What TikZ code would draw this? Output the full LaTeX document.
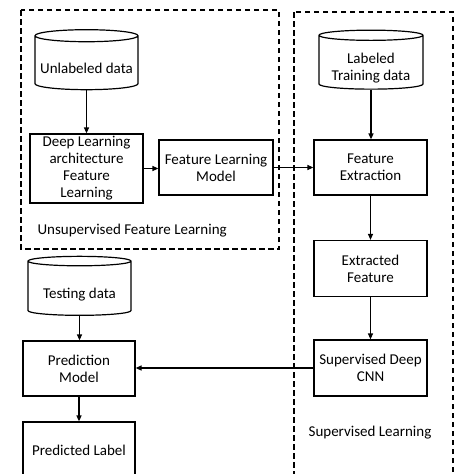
\documentclass[tikz,border=0pt]{standalone}
\usepackage{fontspec}
\setmainfont{Carlito}
\usetikzlibrary{arrows.meta,shapes.geometric}
\begin{document}
\begin{tikzpicture}[x=1pt,y=-1pt,font=\fontsize{15}{17}\selectfont,
    blk/.style={draw,line width=1.2pt,align=center,inner sep=0pt},
    db/.style={draw,line width=1.2pt,align=center,cylinder,shape border rotate=90,aspect=0.13,inner sep=0pt,text depth=3.5pt},
    arr/.style={-{Triangle[length=6pt,width=5pt]},line width=1.2pt},
    grp/.style={draw,line width=1.4pt,dash pattern=on 5.5pt off 3.5pt}]
\useasboundingbox (0,0) rectangle (474,474);

% the two dashed groups
\draw[grp] (21,10) rectangle (279,249);
\draw[grp] (294,12) rectangle (453,482);
\node[anchor=west] (unsup) at (34,231) {Unsupervised Feature Learning};
\node (sup) at (370,433) {Supervised Learning};

% data stores: name / x / y / width / height / text height / text
\foreach \n/\x/\y/\w/\h/\th/\t in {unl/86.5/63/103/60/24/{Unlabeled data},
                                   ltd/371/62.5/104/59/39/{Labeled\\Training data},
                                   tst/79.5/288.5/103/59/24/{Testing data}}
    \node[db,minimum width=\w,minimum height=\h,text height=\th] (\n) at (\x,\y) {\t};

% process boxes
\foreach \n/\x/\y/\w/\h/\t in {dla/86.5/168.5/113/69/{Deep Learning\\architecture\\Feature\\Learning},
                               flm/216/167.5/114/55/{Feature Learning\\Model},
                               fex/370.5/167.5/113/55/{Feature\\Extraction},
                               exf/370.5/268.5/113/56/{Extracted\\Feature},
                               sdc/370.5/368/113/56/{Supervised Deep\\CNN},
                               pmd/79/368.5/112/55/{Prediction\\Model},
                               plb/79/450/112/56/{Predicted Label}}
    \node[blk,minimum width=\w,minimum height=\h] (\n) at (\x,\y) {\t};

% vertical flows
\foreach \a/\b in {unl/dla, ltd/fex, fex/exf, exf/sdc, tst/pmd, pmd/plb}
    \draw[arr] (\a) -- (\a |- \b.north);

% horizontal flows
\draw[arr] (dla) -- (dla -| flm.west);
\draw[arr] (flm) -- (flm -| fex.west);
\draw[arr] (sdc) -- (sdc -| pmd.east);
\end{tikzpicture}
\end{document}
